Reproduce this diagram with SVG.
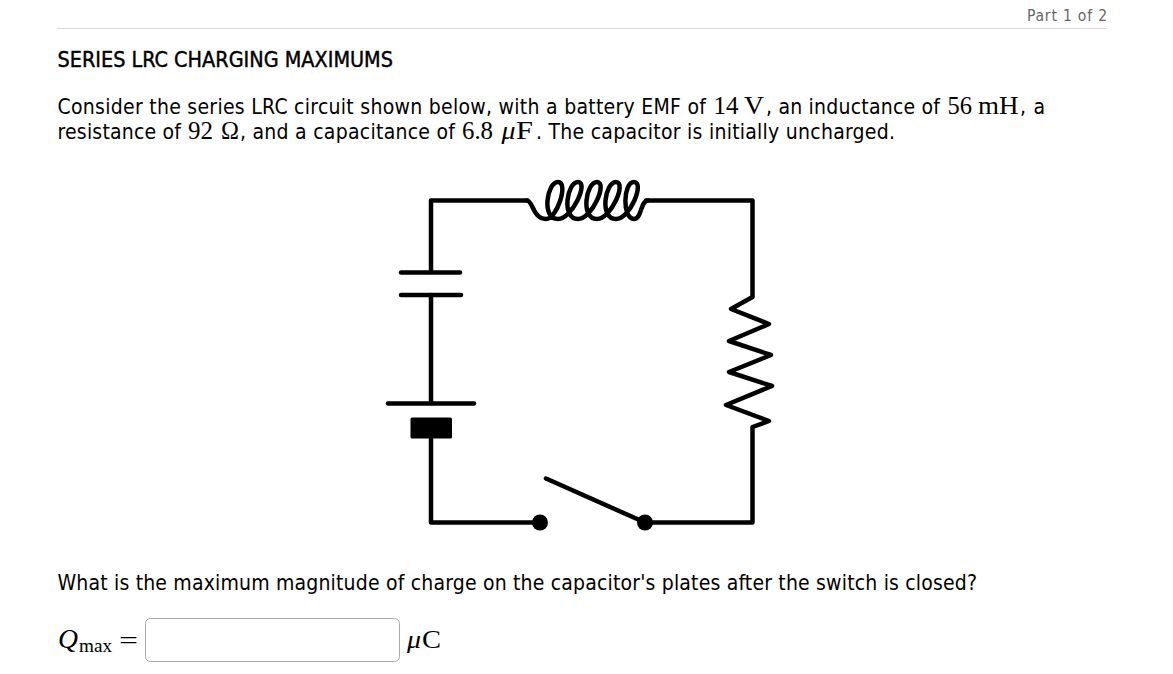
<svg xmlns="http://www.w3.org/2000/svg" width="1173" height="674" viewBox="0 0 1173 674">
<style>
.t{font-family:"DejaVu Sans","Noto Sans",sans-serif;font-stretch:condensed;font-size:21px;fill:#000}
.m{font-family:"Liberation Serif","Times New Roman",serif;font-size:25px;fill:#000}
.w{fill:none;stroke:#000;stroke-width:4.500;stroke-linecap:round;stroke-linejoin:round}
</style>
<rect width="1173" height="674" fill="#fff"/>
<g id="header">
<line x1="57" y1="28.500" x2="1107" y2="28.500" stroke="#d9d9d9"/>
<text class="t" x="1027" y="20.500" style="font-size:15.500px;fill:#666" textLength="80">Part 1 of 2</text>
</g>
<g id="prose">
<text class="t" x="57.500" y="67" textLength="335.500" lengthAdjust="spacingAndGlyphs" stroke="#000" stroke-width=".4">SERIES LRC CHARGING MAXIMUMS</text>
<text class="t" x="57.500" y="114" textLength="648.500">Consider the series LRC circuit shown below, with a battery EMF of</text>
<text class="m" x="713.500" y="114" textLength="25" lengthAdjust="spacingAndGlyphs">14</text>
<text class="m" x="744" y="114" textLength="20" lengthAdjust="spacingAndGlyphs">V</text>
<text class="t" x="766" y="114" textLength="174">, an inductance of</text>
<text class="m" x="947.500" y="114" textLength="24.500" lengthAdjust="spacingAndGlyphs">56</text>
<text class="m" x="978" y="114" textLength="40.500" lengthAdjust="spacingAndGlyphs">mH</text>
<text class="t" x="1020" y="114" textLength="25">, a</text>
<text class="t" x="57.500" y="139" textLength="123.500">resistance of</text>
<text class="m" x="188" y="139" textLength="25" lengthAdjust="spacingAndGlyphs">92</text>
<text class="m" x="221" y="139" textLength="18" lengthAdjust="spacingAndGlyphs">Ω</text>
<text class="t" x="240" y="139" textLength="215">, and a capacitance of</text>
<text class="m" x="462" y="139" textLength="31" lengthAdjust="spacingAndGlyphs">6.8</text>
<text class="m" x="501.500" y="139" font-style="italic" textLength="14" lengthAdjust="spacingAndGlyphs">μ</text>
<text class="m" x="516" y="139" textLength="17" lengthAdjust="spacingAndGlyphs">F</text>
<text class="t" x="536" y="139" textLength="359">. The capacitor is initially uncharged.</text>
<text class="t" x="57.500" y="590" textLength="919.500">What is the maximum magnitude of charge on the capacitor's plates after the switch is closed?</text>
</g>
<g id="connectors">
<path class="w" d="M540,522.500H431V438M431,403V295M431,272V200.500H527M646,200.500H752.500V297L731,309L769,324L729,341L771,355L729,372L772,386L726,405L769,421L752.500,427V522.500H645"/>
</g>
<g id="inductor">
<path class="w" d="M527,200.500C533,201 533,219 546,219C557,219 569,182 558,182C547,182 541,219 558,219C572,219 589,182 578,182C567,182 561,219 578,219C592,219 608,182 597,182C586,182 580,219 597,219C611,219 627,182 616,182C605,182 599,219 616,219C630,219 645,182 634,182C623,182 622,219 634,219C642,219 640,201 648,200.500"/>
</g>
<g id="capacitor">
<line class="w" x1="401" y1="272.500" x2="460" y2="272.500"/>
<line class="w" x1="401" y1="295" x2="461" y2="295"/>
</g>
<g id="battery">
<line class="w" x1="388" y1="403.500" x2="474" y2="403.500"/>
<rect x="410.500" y="417.500" width="41.500" height="21" rx="1.500" fill="#000"/>
</g>
<g id="resistor"></g>
<g id="switch">
<line class="w" x1="546" y1="478.500" x2="645" y2="522.500"/>
<circle cx="540" cy="522.500" r="8"/>
<circle cx="645" cy="522.500" r="8"/>
</g>
<g id="answer">
<text class="m" x="58" y="648" font-style="italic" style="font-size:27px" textLength="20" lengthAdjust="spacingAndGlyphs">Q</text>
<text class="m" x="79" y="652" style="font-size:18px" textLength="33" lengthAdjust="spacingAndGlyphs">max</text>
<text class="m" x="119" y="649" textLength="19" lengthAdjust="spacingAndGlyphs">=</text>
<rect x="145.500" y="618.500" width="254" height="43" rx="5" fill="#fff" stroke="#aaa" stroke-width="1"/>
<text class="m" x="407" y="648" font-style="italic" textLength="14" lengthAdjust="spacingAndGlyphs">μ</text>
<text class="m" x="422" y="648" textLength="19" lengthAdjust="spacingAndGlyphs">C</text>
</g>
</svg>
